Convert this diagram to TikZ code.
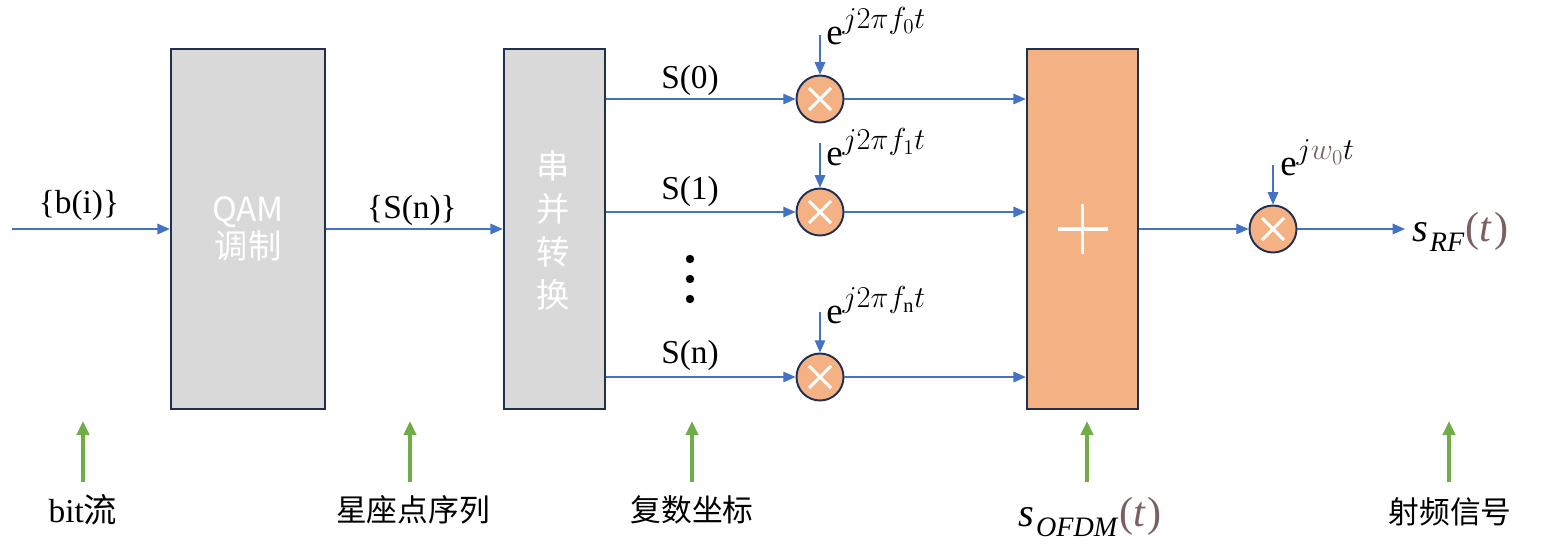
\documentclass[tikz,border=0pt]{standalone}
\usepackage{fontspec}
\setmainfont{Liberation Serif}
\newfontfamily\cjk{Noto Sans CJK SC}
\usetikzlibrary{arrows.meta}
\definecolor{boxgray}{HTML}{D9D9D9}
\definecolor{peach}{HTML}{F4B183}
\definecolor{navy}{HTML}{1F3050}
\definecolor{cblue}{HTML}{4472C4}
\definecolor{cgreen}{HTML}{70AD47}
\definecolor{brn}{HTML}{7B6062}
\newcommand\expo[1]{e\raisebox{0.42em}{\fontsize{16.5}{16.5}\selectfont$#1$}}
\newcommand\sig[1]{{\fontsize{23}{24}\selectfont\textit{s}\kern1pt\raisebox{-0.25em}{\fontsize{16}{16}\selectfont\itshape #1}\kern1pt\textcolor{brn}{\fontsize{24}{24}\selectfont(\textit{t}\kern1pt)}}}
\tikzset{
  blk/.style={draw=navy,line width=1.4pt,inner sep=0pt},
  mult/.style={circle,draw=navy,line width=1.1pt,fill=peach,minimum size=0.94cm,inner sep=0pt,
    path picture={\draw[white,line width=1.7pt]
      (path picture bounding box.center) ++(-11,-11) -- ++(22,22)
      (path picture bounding box.center) ++(-11,11) -- ++(22,-22);}},
  bl/.style={cblue,line width=0.7pt,-{Triangle[length=7pt,width=6pt]}},
  gr/.style={cgreen,line width=2pt,-{Triangle[length=8pt,width=7pt]}},
  lat/.style={font=\fontsize{19}{22}\selectfont,inner sep=0pt},
  zh/.style={font=\cjk\fontsize{17.5}{21}\selectfont,inner sep=0pt},
  ex/.style={font=\fontsize{21}{22}\selectfont,inner sep=0pt,anchor=base west},
}
\begin{document}
\begin{tikzpicture}[x=0.02cm,y=-0.02cm]
\useasboundingbox (0,0) rectangle (1547,549);
% blocks
\node[blk,fill=boxgray,minimum width=3.08cm,minimum height=7.2cm,
  font=\cjk\fontsize{19}{23}\selectfont,text=white,align=center] (qam) at (248,229) {QAM\\[-2pt]调制};
\node[blk,fill=boxgray,minimum width=2.02cm,minimum height=7.2cm] (sp) at (554.5,229) {};
\node[zh,text=white,font=\cjk\fontsize{19}{24.5}\selectfont,align=center] (sptxt) at (553,230) {串\\并\\转\\换};
\node[blk,fill=peach,minimum width=2.22cm,minimum height=7.2cm] (sum) at (1082.5,229) {};
\draw[white,line width=2.2pt] (sum.center) ++(-25,0) -- ++(50,0) (sum.center) ++(0,-25) -- ++(0,50);
% multipliers
\node[mult] (m0) at (820,99) {};
\node[mult] (m1) at (820,212) {};
\node[mult] (mn) at (820,377) {};
\node[mult] (mr) at (1273,229) {};
% input
\coordinate (in) at (12,229);
\draw[bl] (in) -- (qam.west);
\node[lat] (bi) at (79,205) {\{b(i)\}};
\draw[bl] (qam.east) -- (sp.west);
\node[lat] (sn) at (412,210) {\{S(n)\}};
% branches
\draw[bl] (sp.east |- m0) -- (m0.west);
\draw[bl] (sp.east |- m1) -- (m1.west);
\draw[bl] (sp.east |- mn) -- (mn.west);
\node[lat] (s0) at (690,80) {S(0)};
\node[lat] (s1) at (690,191) {S(1)};
\node[lat] (snn) at (690,355) {S(n)};
\fill (690,259) circle (4.2) (690,279) circle (4.2) (690,299) circle (4.2);
\draw[bl] (m0.east) -- (sum.west |- m0);
\draw[bl] (m1.east) -- (sum.west |- m1);
\draw[bl] (mn.east) -- (sum.west |- mn);
% exponentials
\coordinate (t0) at (820,35);
\coordinate (t1) at (820,143);
\coordinate (tn) at (820,312);
\coordinate (tr) at (1273,165);
\draw[bl] (t0) -- (m0.north);
\draw[bl] (t1) -- (m1.north);
\draw[bl] (tn) -- (mn.north);
\draw[bl] (tr) -- (mr.north);
\node[ex] (e0) at (826,44) {\expo{j2\pi f_0t}};
\node[ex] (e1) at (826,165) {\expo{j2\pi f_1t}};
\node[ex] (en) at (826,323) {\expo{j2\pi f_{\mathrm{n}}t}};
\node[ex] (er) at (1280,175) {\expo{j{\color{brn}w_0}t}};
% output
\draw[bl] (sum.east) -- (mr.west);
\coordinate (out) at (1405,229);
\draw[bl] (mr.east) -- (out);
\node[inner sep=0pt,anchor=west] (srf) at (1412,232) {\sig{RF}};
% bottom annotations
\foreach \x/\n in {83/a,410/b,692/c,1087/d,1449/e}{
  \coordinate (g\n) at (\x,482);
  \coordinate (h\n) at (\x,421);
  \draw[gr] (g\n) -- (h\n);
}
\node[lat] (l1) at (83,510) {bit\cjk 流};
\node[zh] (l2) at (413,510) {星座点序列};
\node[zh] (l3) at (692,510) {复数坐标};
\node[inner sep=0pt] (l4) at (1090,517) {\sig{OFDM}};
\node[zh] (l5) at (1450,512) {射频信号};
\end{tikzpicture}
\end{document}
